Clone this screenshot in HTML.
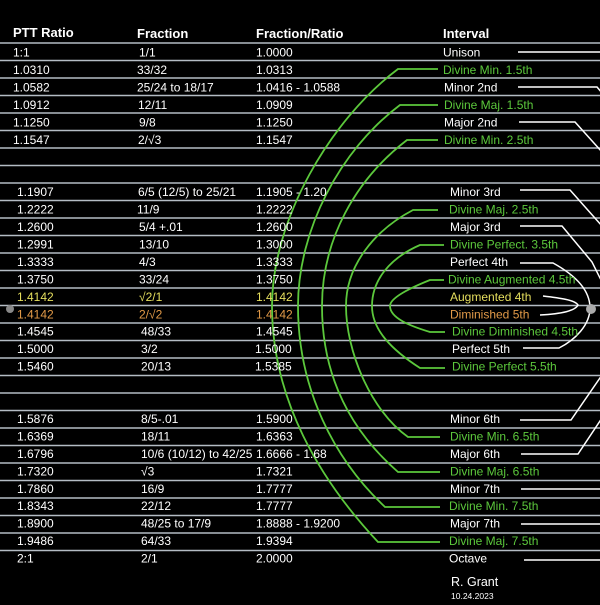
<!DOCTYPE html>
<html><head><meta charset="utf-8"><style>
html,body{margin:0;padding:0;background:#000;}
svg{display:block;}
text{font-family:"Liberation Sans","DejaVu Sans",sans-serif;font-size:12px;fill:#fff;}
.h{font-weight:bold;font-size:13px;}
.g{fill:#5cc83c;}
.y{fill:#e6df5e;}
.o{fill:#e29a48;}
</style></head><body>
<svg width="600" height="605" viewBox="0 0 600 605" xmlns="http://www.w3.org/2000/svg">
<rect width="600" height="605" fill="#000"/>
<g stroke="#b4bcc4" stroke-width="1.6">
<line x1="0" x2="600" y1="43" y2="43"/><line x1="0" x2="600" y1="60.5" y2="60.5"/><line x1="0" x2="600" y1="78" y2="78"/><line x1="0" x2="600" y1="95.5" y2="95.5"/><line x1="0" x2="600" y1="113" y2="113"/><line x1="0" x2="600" y1="130.5" y2="130.5"/><line x1="0" x2="600" y1="148" y2="148"/><line x1="0" x2="600" y1="165.5" y2="165.5"/><line x1="0" x2="600" y1="183" y2="183"/><line x1="0" x2="600" y1="200.5" y2="200.5"/><line x1="0" x2="600" y1="218" y2="218"/><line x1="0" x2="600" y1="235.5" y2="235.5"/><line x1="0" x2="600" y1="253" y2="253"/><line x1="0" x2="600" y1="270.5" y2="270.5"/><line x1="0" x2="600" y1="288" y2="288"/><line x1="0" x2="600" y1="305.5" y2="305.5"/><line x1="0" x2="600" y1="323" y2="323"/><line x1="0" x2="600" y1="340.5" y2="340.5"/><line x1="0" x2="600" y1="358" y2="358"/><line x1="0" x2="600" y1="375.5" y2="375.5"/><line x1="0" x2="600" y1="393" y2="393"/><line x1="0" x2="600" y1="410.5" y2="410.5"/><line x1="0" x2="600" y1="428" y2="428"/><line x1="0" x2="600" y1="445.5" y2="445.5"/><line x1="0" x2="600" y1="463" y2="463"/><line x1="0" x2="600" y1="480.5" y2="480.5"/><line x1="0" x2="600" y1="498" y2="498"/><line x1="0" x2="600" y1="515.5" y2="515.5"/><line x1="0" x2="600" y1="533" y2="533"/><line x1="0" x2="600" y1="550.5" y2="550.5"/>
</g>
<g fill="none" stroke="#5cc83c" stroke-width="1.8">
<path d="M438 69 L398 69 C330 120 272 220 272 306 C272 400 320 480 378 542 L440 542"/>
<path d="M438 105 L400 105 C340 150 298 230 298 306 C298 390 335 460 385 507 L440 507"/>
<path d="M438 140 L407 140 C355 180 322 240 322 306 C322 375 350 430 398 472 L440 472"/>
<path d="M438 210 L413 210 C375 230 346 265 346 306 C346 350 370 410 408 437 L440 437"/>
<path d="M444 245 L420 245 C390 258 372 280 372 306 C372 330 392 350 420 368 L445 368"/>
<path d="M444 280 L430 280 C410 288 390 298 390 306 C390 318 410 326 430 332 L445 332"/>
</g>
<g fill="none" stroke="#fff" stroke-width="1.5">
<path d="M518 52 L600 52"/>
<path d="M524 560 L600 560"/>
<path d="M518 87 L597 87 L602 93"/>
<path d="M521 524 L600 524"/>
<path d="M519 122 L575 122 L602 152"/>
<path d="M521 489 L600 489"/>
<path d="M520 190 L570 190 L602 226"/>
<path d="M521 454 L578 454 L602 418"/>
<path d="M520 226 L562 226 L592 262 L602 282"/>
<path d="M520 420 L571 420 L602 375"/>
<path d="M520 263 L553 263 C575 275 590 290 590 308 C590 325 575 340 559 348 L523 348"/>
<path d="M543 296 C560 298 575 300 578 305 C575 311 560 314 540 315"/>
</g>
<circle cx="591" cy="309" r="5" fill="#aaa"/>
<circle cx="10" cy="309" r="4" fill="#888"/>
<text class="h" x="13" y="37">PTT Ratio</text>
<text class="h" x="137" y="38">Fraction</text>
<text class="h" x="256" y="38">Fraction/Ratio</text>
<text class="h" x="443" y="38">Interval</text>
<text x="13" y="56.5">1:1</text>
<text x="13" y="74">1.0310</text>
<text x="13" y="91.4">1.0582</text>
<text x="13" y="108.9">1.0912</text>
<text x="13" y="126.3">1.1250</text>
<text x="13" y="143.8">1.1547</text>
<text x="17" y="196.1">1.1907</text>
<text x="17" y="213.6">1.2222</text>
<text x="17" y="231">1.2600</text>
<text x="17" y="248.5">1.2991</text>
<text x="17" y="265.9">1.3333</text>
<text x="17" y="283.4">1.3750</text>
<text class="y" x="17" y="300.8">1.4142</text>
<text class="o" x="17" y="318.3">1.4142</text>
<text x="17" y="335.7">1.4545</text>
<text x="17" y="353.2">1.5000</text>
<text x="17" y="370.6">1.5460</text>
<text x="17" y="422.9">1.5876</text>
<text x="17" y="440.4">1.6369</text>
<text x="17" y="457.9">1.6796</text>
<text x="17" y="475.3">1.7320</text>
<text x="17" y="492.8">1.7860</text>
<text x="17" y="510.2">1.8343</text>
<text x="17" y="527.7">1.8900</text>
<text x="17" y="545.1">1.9486</text>
<text x="17" y="562.6">2:1</text>
<text x="139" y="56.5">1/1</text>
<text x="137" y="74">33/32</text>
<text x="137" y="91.4">25/24 to 18/17</text>
<text x="138" y="108.9">12/11</text>
<text x="139" y="126.3">9/8</text>
<text x="138" y="143.8">2/√3</text>
<text x="138" y="196.1">6/5 (12/5) to 25/21</text>
<text x="137" y="213.6">11/9</text>
<text x="139" y="231">5/4 +.01</text>
<text x="139" y="248.5">13/10</text>
<text x="139" y="265.9">4/3</text>
<text x="139" y="283.4">33/24</text>
<text class="y" x="139" y="300.8">√2/1</text>
<text class="o" x="139" y="318.3">2/√2</text>
<text x="141" y="335.7">48/33</text>
<text x="141" y="353.2">3/2</text>
<text x="141" y="370.6">20/13</text>
<text x="141" y="422.9">8/5-.01</text>
<text x="141" y="440.4">18/11</text>
<text x="141" y="457.9">10/6 (10/12) to 42/25</text>
<text x="141" y="475.3">√3</text>
<text x="141" y="492.8">16/9</text>
<text x="141" y="510.2">22/12</text>
<text x="141" y="527.7">48/25 to 17/9</text>
<text x="141" y="545.1">64/33</text>
<text x="141" y="562.6">2/1</text>
<text x="256" y="56.5">1.0000</text>
<text x="256" y="74">1.0313</text>
<text x="256" y="91.4">1.0416 - 1.0588</text>
<text x="256" y="108.9">1.0909</text>
<text x="256" y="126.3">1.1250</text>
<text x="256" y="143.8">1.1547</text>
<text x="256" y="196.1">1.1905 - 1.20</text>
<text x="256" y="213.6">1.2222</text>
<text x="256" y="231">1.2600</text>
<text x="256" y="248.5">1.3000</text>
<text x="256" y="265.9">1.3333</text>
<text x="256" y="283.4">1.3750</text>
<text class="y" x="256" y="300.8">1.4142</text>
<text class="o" x="256" y="318.3">1.4142</text>
<text x="256" y="335.7">1.4545</text>
<text x="255" y="353.2">1.5000</text>
<text x="255" y="370.6">1.5385</text>
<text x="256" y="422.9">1.5900</text>
<text x="256" y="440.4">1.6363</text>
<text x="256" y="457.9">1.6666 - 1.68</text>
<text x="256" y="475.3">1.7321</text>
<text x="256" y="492.8">1.7777</text>
<text x="256" y="510.2">1.7777</text>
<text x="256" y="527.7">1.8888 - 1.9200</text>
<text x="256" y="545.1">1.9394</text>
<text x="256" y="562.6">2.0000</text>
<text x="443" y="56.5">Unison</text>
<text class="g" x="443" y="74">Divine Min. 1.5th</text>
<text x="444" y="91.4">Minor 2nd</text>
<text class="g" x="444" y="108.9">Divine Maj. 1.5th</text>
<text x="444" y="126.3">Major 2nd</text>
<text class="g" x="444" y="143.8">Divine Min. 2.5th</text>
<text x="450" y="196.1">Minor 3rd</text>
<text class="g" x="449" y="213.6">Divine Maj. 2.5th</text>
<text x="450" y="231">Major 3rd</text>
<text class="g" x="450" y="248.5">Divine Perfect. 3.5th</text>
<text x="450" y="265.9">Perfect 4th</text>
<text class="g" x="448" y="283.4">Divine Augmented 4.5th</text>
<text class="y" x="450" y="300.8">Augmented 4th</text>
<text class="o" x="450" y="318.3">Diminished 5th</text>
<text class="g" x="452" y="335.7">Divine Diminished 4.5th</text>
<text x="452" y="353.2">Perfect 5th</text>
<text class="g" x="452" y="370.6">Divine Perfect 5.5th</text>
<text x="450" y="422.9">Minor 6th</text>
<text class="g" x="450" y="440.4">Divine Min. 6.5th</text>
<text x="450" y="457.9">Major 6th</text>
<text class="g" x="450" y="475.3">Divine Maj. 6.5th</text>
<text x="450" y="492.8">Minor 7th</text>
<text class="g" x="449" y="510.2">Divine Min. 7.5th</text>
<text x="450" y="527.7">Major 7th</text>
<text class="g" x="449" y="545.1">Divine Maj. 7.5th</text>
<text x="449" y="562.6">Octave</text>
<text x="451" y="586" style="font-size:12.5px">R. Grant</text>
<text x="451" y="599" style="font-size:8.5px">10.24.2023</text>
</svg>
</body></html>
